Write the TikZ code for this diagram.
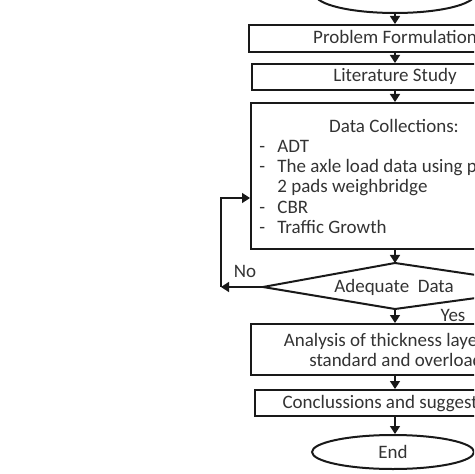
\documentclass[tikz,border=0pt]{standalone}
\usepackage{fontspec}
\setmainfont{Carlito}
\usetikzlibrary{arrows.meta,shapes.geometric}

\tikzset{
  box/.style={draw=black!90, line width=1pt, inner sep=0pt},
  onebox/.style={box, text height=7pt, text depth=2pt},
  term/.style={draw=black!90, ellipse, line width=1pt, inner sep=0pt},
  arr/.style={draw=black!90, line width=0.75pt, -{Triangle[length=4pt,width=5pt]}},
  item/.style={anchor=base west, inner sep=0pt},
}

\begin{document}
\begin{tikzpicture}[x=0.5pt, y=-0.5pt, font=\fontsize{9.5}{10}\selectfont, text=black!80]
\useasboundingbox (0,0) rectangle (474,474);
\clip (0,0) rectangle (474,474);

% terminals and boxes
\node[term, minimum width=80pt, minimum height=19pt] (start) at (395,-6) {};
\node[onebox, minimum width=146pt, minimum height=13.5pt] (prob) at (395,38.5) {Problem Formulation};
\node[onebox, minimum width=143pt, minimum height=13pt] (lit) at (395,77) {Literature Study};
\node[box, minimum width=145pt, minimum height=73pt] (data) at (396,176) {};

\node (datatitle) at (394,126) {Data Collections:};
\foreach \y/\t [count=\i] in {153/ADT, 173/The axle load data using portable, 214/CBR, 234/Traffic Growth}
{
  \node[item] (dash\i) at (259,\y) {-};
  \node[item] (item\i) at (277,\y) {\t};
}
\node[item] (itemb) at (277,193) {2 pads weighbridge};

% decision
\coordinate (dtop) at (395,263);
\coordinate (dleft) at (263,287);
\coordinate (dbot) at (395,309);
\coordinate (dright) at (557,287);
\draw[draw=black!90, line width=1pt] (dtop) -- (dright) -- (dbot) -- (dleft) -- cycle;
\node (dec) at (394,287) {Adequate\ \ Data};

\node[box, minimum width=145pt, minimum height=25.5pt, align=center] (ana) at (396,349.5) {Analysis of thickness layer on\\standard and overload};
\node[onebox, minimum width=141pt, minimum height=13pt] (con) at (396,403) {Conclussions and suggestions};
\node[term, minimum width=81pt, minimum height=17pt] (end) at (393,452) {End};

% connectors
\draw[arr] (start.south) -- (start.south |- prob.north);
\draw[arr] (prob.south -| start.south) -- (start.south |- lit.north);
\draw[arr] (lit.south -| start.south) -- (start.south |- data.north);
\draw[arr] (data.south -| dtop) -- (dtop);
\draw[arr] (dbot) -- (dbot |- ana.north);
\draw[arr] (ana.south -| dbot) -- (dbot |- con.north);
\draw[arr] (con.south -| dbot) -- (dbot |- end.north);

\coordinate (nocorner) at (221,287);
\coordinate (back) at (221,198);
\draw[arr] (dleft) -- (nocorner);
\draw[arr] (nocorner) -- (back) -- (data.west |- back);

\node (no) at (245,271) {No};
\node (yes) at (453,315) {Yes};
\end{tikzpicture}
\end{document}
